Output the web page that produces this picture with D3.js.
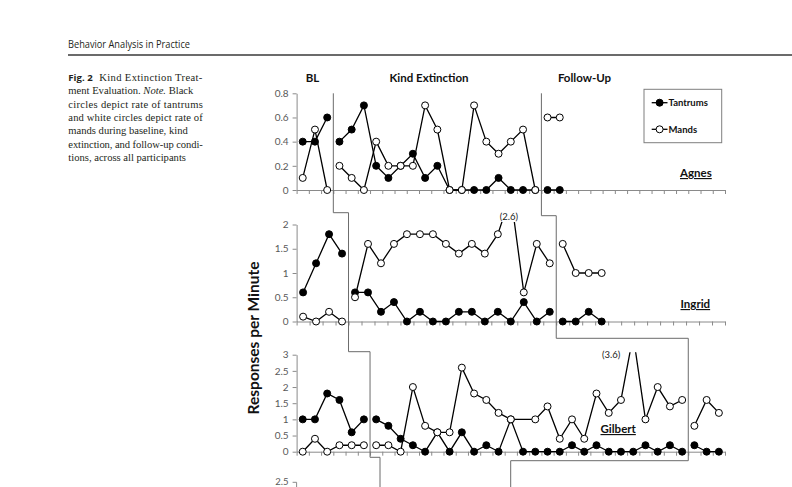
<!DOCTYPE html>
<html>
<head>
<meta charset="utf-8">
<script src="https://cdn.jsdelivr.net/npm/d3@7"></script>
<style>
  body { margin: 0; background: #fff; }
  svg { display: block; }
</style>
</head>
<body>
<div id="chart"></div>
<script>
// sessions per condition (BL, Kind Extinction, Follow-Up)
const agnesPhases = [3, 17, 2]
const agnesTantrums = [0.4, 0.4, 0.6,
  0.4, 0.5, 0.7, 0.2, 0.1, 0.2, 0.3, 0.1, 0.2, 0, 0, 0, 0, 0.1, 0, 0, 0,
  0, 0]
const agnesMands = [0.1, 0.5, 0,
  0.2, 0.1, 0, 0.4, 0.2, 0.2, 0.2, 0.7, 0.5, 0, 0, 0.7, 0.4, 0.3, 0.4, 0.5, 0,
  0.6, 0.6]

const ingridPhases = [4, 16, 4]
const ingridTantrums = [0.6, 1.2, 1.8, 1.4,
  0.6, 0.6, 0.2, 0.4, 0, 0.2, 0, 0, 0.2, 0.2, 0, 0.2, 0, 0.4, 0, 0.2,
  0, 0, 0.2, 0]
const ingridMands = [0.1, 0, 0.2, 0,
  0.5, 1.6, 1.2, 1.6, 1.8, 1.8, 1.8, 1.6, 1.4, 1.6, 1.4, 1.8, 2.6, 0.6, 1.6, 1.2,
  1.6, 1.0, 1.0, 1.0]

const gilbertPhases = [6, 26, 3]
const gilbertTantrums = [1, 1, 1.8, 1.6, 0.6, 1,
  1, 0.8, 0.4, 0.2, 0, 0.6, 0, 0.6, 0, 0.2, 0, 1.0, 0, 0,
  0, 0, 0.2, 0, 0.2, 0, 0, 0, 0.2, 0, 0.2, 0,
  0.2, 0, 0]
const gilbertMands = [0, 0.4, 0, 0.2, 0.2, 0.2,
  0.2, 0.2, 0, 2.0, 0.8, 0.6, 0.6, 2.6, 1.8, 1.6, 1.2, 1.0, null, 1.0,
  1.4, 0.4, 1.0, 0.4, 1.8, 1.2, 1.6, 3.6, 1.0, 2.0, 1.4, 1.6,
  0.8, 1.6, 1.2]

const phaseNames = ['BL', 'Kind Extinction', 'Follow-Up']
const seriesNames = ['Tantrums', 'Mands']

const panels = [
  { name: 'Agnes', phases: agnesPhases, tantrums: agnesTantrums, mands: agnesMands,
    sessions: 35, yMax: 0.8, yStep: 0.2, top: 93.3, bottom: 190, label: [680, 177] },
  { name: 'Ingrid', phases: ingridPhases, tantrums: ingridTantrums, mands: ingridMands,
    sessions: 33, yMax: 2, yStep: 0.5, top: 224.5, bottom: 321.5, label: [680.5, 308] },
  { name: 'Gilbert', phases: gilbertPhases, tantrums: gilbertTantrums, mands: gilbertMands,
    sessions: 35, yMax: 3, yStep: 0.5, top: 354.7, bottom: 451.7, label: [600.5, 433] }
]

const W = 792, H = 487
const axisLeft = 296.6, axisRight = 725
const axisColor = '#8a8a8a', tickText = '#595959', phaseColor = '#6b6b6b'
const chartFont = 'Lato, "Open Sans", sans-serif'

const svg = d3.select('#chart').append('svg')
  .attr('width', W).attr('height', H)

// page header
svg.append('text')
  .attr('x', 68).attr('y', 47.5)
  .attr('font-family', '"Open Sans", sans-serif')
  .attr('font-size', 10)
  .attr('fill', '#231f20')
  .attr('textLength', 122).attr('lengthAdjust', 'spacingAndGlyphs')
  .text('Behavior Analysis in Practice')
svg.append('line')
  .attr('x1', 68).attr('x2', W).attr('y1', 55).attr('y2', 55)
  .attr('stroke', '#3a3a3a').attr('stroke-width', 1.4)

// caption
const cap = svg.append('g')
  .attr('font-family', '"Liberation Serif", "Times New Roman", serif')
  .attr('font-size', 10.6).attr('fill', '#231f20')
cap.append('text').attr('x', 68.3).attr('y', 81)
  .attr('font-family', '"Open Sans", sans-serif').attr('font-weight', 'bold')
  .attr('font-size', 9.6).text('Fig. 2')
cap.append('text').attr('x', 99.3).attr('y', 81)
  .attr('textLength', 103).attr('lengthAdjust', 'spacing')
  .text('Kind Extinction Treat-')
const l2 = cap.append('text').attr('x', 68.3).attr('y', 94.3)
l2.append('tspan').text('ment Evaluation. ')
l2.append('tspan').attr('font-style', 'italic').text('Note.')
l2.append('tspan').text(' Black')
const capLines = [
  ['circles depict rate of tantrums', 107.6, 134.5],
  ['and white circles depict rate of', 121, 134.5],
  ['mands during baseline, kind', 134.3, null],
  ['extinction, and follow-up condi-', 147.6, 134.5],
  ['tions, across all participants', 161, null]
]
capLines.forEach(([t, y, len]) => {
  const el = cap.append('text').attr('x', 68.3).attr('y', y).text(t)
  if (len) el.attr('textLength', len).attr('lengthAdjust', 'spacing')
})

// phase titles
const phaseTitleX = [312.5, 429, 584.5]
svg.selectAll('.phaseTitle')
  .data(phaseNames)
  .enter().append('text')
  .attr('class', 'phaseTitle')
  .attr('x', (d, i) => phaseTitleX[i]).attr('y', 82)
  .attr('text-anchor', 'middle')
  .attr('font-family', chartFont).attr('font-weight', 'bold')
  .attr('font-size', 11.5).attr('fill', '#111')
  .text(d => d)

// y axis title
svg.append('text')
  .attr('transform', 'translate(259,338) rotate(-90)')
  .attr('text-anchor', 'middle')
  .attr('font-family', chartFont).attr('font-weight', 'bold')
  .attr('font-size', 15.5).attr('fill', '#111')
  .text('Responses per Minute')

const fmt = d => String(+d.toFixed(1))

panels.forEach((p, pi) => {
  p.x = d3.scaleLinear().domain([0.5, p.sessions + 0.5]).range([axisLeft, axisRight])
  p.y = d3.scaleLinear().domain([0, p.yMax]).range([p.bottom, p.top])

  const g = svg.append('g').attr('class', 'panel ' + p.name)

  // x axis
  const xAxis = g.append('g')
    .attr('transform', 'translate(0,' + p.bottom + ')')
    .call(d3.axisBottom(p.x)
      .tickValues(d3.range(0.5, p.sessions + 1, 1))
      .tickFormat('')
      .tickSizeInner(4).tickSizeOuter(0))
  xAxis.selectAll('path, line').attr('stroke', axisColor)

  // y axis
  const yAxis = g.append('g')
    .attr('transform', 'translate(' + axisLeft + ',0)')
    .call(d3.axisLeft(p.y)
      .tickValues(d3.range(0, p.yMax + 1e-6, p.yStep))
      .tickFormat(fmt)
      .tickSizeInner(4).tickSizeOuter(0).tickPadding(4))
  yAxis.selectAll('path, line').attr('stroke', axisColor)
  yAxis.selectAll('text')
    .attr('fill', tickText)
    .attr('font-family', chartFont)
    .attr('font-size', 10)

  // clip so that off-scale sessions run off the top edge
  const clipId = 'clip' + pi
  svg.append('clipPath').attr('id', clipId)
    .append('rect')
    .attr('x', axisLeft - 10).attr('y', p.top - 2.5)
    .attr('width', axisRight - axisLeft + 20)
    .attr('height', p.bottom - p.top + 12)

  const plot = g.append('g').attr('clip-path', 'url(#' + clipId + ')')

  const line = d3.line().x(d => p.x(d.s)).y(d => p.y(d.v))

  ;[p.tantrums, p.mands].forEach((vals, si) => {
    let start = 0
    p.phases.forEach(len => {
      const seg = []
      for (let i = start; i < start + len; i++) {
        if (vals[i] != null) seg.push({ s: i + 1, v: vals[i] })
      }
      start += len
      plot.append('path')
        .datum(seg)
        .attr('d', line)
        .attr('fill', 'none')
        .attr('stroke', '#000')
        .attr('stroke-width', 1.3)
      plot.selectAll(null)
        .data(seg)
        .enter().append('circle')
        .attr('cx', d => p.x(d.s))
        .attr('cy', d => p.y(d.v))
        .attr('r', 3.5)
        .attr('fill', si === 0 ? '#000' : '#fff')
        .attr('stroke', '#000')
        .attr('stroke-width', 1)
    })
  })

  // participant name
  g.append('text')
    .attr('x', p.label[0]).attr('y', p.label[1])
    .attr('font-family', chartFont).attr('font-weight', 'bold')
    .attr('font-size', 11.5).attr('fill', '#111')
    .attr('text-decoration', 'underline')
    .text(p.name)
})

// off-scale notes
const [agnes, ingrid, gilbert] = panels
svg.append('text')
  .attr('x', ingrid.x(17) - 2).attr('y', ingrid.y(2) - 5)
  .attr('text-anchor', 'middle')
  .attr('font-family', chartFont).attr('font-size', 9.5).attr('fill', '#222')
  .text('(' + ingridMands[16] + ')')
svg.append('text')
  .attr('x', gilbert.x(28) - 22).attr('y', gilbert.y(3) + 3.5)
  .attr('text-anchor', 'middle')
  .attr('font-family', chartFont).attr('font-size', 9.5).attr('fill', '#222')
  .text('(' + gilbertMands[27] + ')')

// phase change lines, stepping down between participants
const bound = (p, k) => p.x(d3.sum(p.phases.slice(0, k)) + 0.5)
const keLine = [
  [bound(agnes, 1), agnes.top], [bound(agnes, 1), 212.7],
  [bound(ingrid, 1), 212.7], [bound(ingrid, 1), 351.7],
  [bound(gilbert, 1), 351.7], [bound(gilbert, 1), 457.3],
  [380, 457.3], [380, H + 5]
]
const fuLine = [
  [bound(agnes, 2), agnes.top], [bound(agnes, 2), 215.7],
  [bound(ingrid, 2), 215.7], [bound(ingrid, 2), 338.3],
  [bound(gilbert, 2), 338.3], [bound(gilbert, 2), 460.7],
  [510.7, 460.7], [510.7, H + 5]
]
;[keLine, fuLine].forEach(pts => {
  svg.append('path')
    .attr('d', d3.line()(pts))
    .attr('fill', 'none')
    .attr('stroke', phaseColor)
    .attr('stroke-width', 1)
})

// next participant's panel, running off the page edge
const nextY = 482.3
svg.append('line')
  .attr('x1', axisLeft).attr('x2', axisLeft).attr('y1', nextY).attr('y2', H + 5)
  .attr('stroke', axisColor)
svg.append('line')
  .attr('x1', axisLeft - 4).attr('x2', axisLeft).attr('y1', nextY).attr('y2', nextY)
  .attr('stroke', axisColor)
svg.append('text')
  .attr('x', axisLeft - 8).attr('y', nextY).attr('dy', '0.32em')
  .attr('text-anchor', 'end')
  .attr('font-family', chartFont).attr('font-size', 9.5).attr('fill', tickText)
  .text('2.5')

// legend
const legend = svg.append('g').attr('transform', 'translate(644,89.3)')
legend.append('rect')
  .attr('width', 77.7).attr('height', 53.4)
  .attr('fill', '#fff').attr('stroke', '#7f7f7f').attr('stroke-width', 1)
const items = legend.selectAll('.item')
  .data(seriesNames)
  .enter().append('g')
  .attr('transform', (d, i) => 'translate(0,' + (13.4 + i * 26.6) + ')')
items.append('line')
  .attr('x1', 7.7).attr('x2', 23.5)
  .attr('stroke', '#000').attr('stroke-width', 1.3)
items.append('circle')
  .attr('cx', 15.6).attr('r', 3.5)
  .attr('fill', (d, i) => i === 0 ? '#000' : '#fff')
  .attr('stroke', '#000')
items.append('text')
  .attr('x', 24.5).attr('dy', '0.35em')
  .attr('font-family', chartFont).attr('font-weight', 'bold')
  .attr('font-size', 9.5).attr('fill', '#111')
  .text(d => d)
</script>
</body>
</html>
